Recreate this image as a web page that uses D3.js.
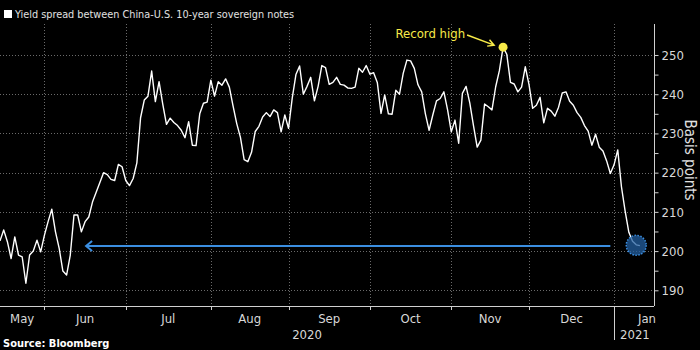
<!DOCTYPE html>
<html>
<head>
<meta charset="utf-8">
<script src="https://cdn.jsdelivr.net/npm/d3@7"></script>
<style>
  html, body { margin: 0; padding: 0; background: #000; }
  svg { display: block; }
  text { font-family: "DejaVu Sans Condensed", "DejaVu Sans", sans-serif; }
</style>
</head>
<body>
<script>
// daily China-U.S. 10-year yield spread (bp), trading days from 14 May 2020
const startDate = new Date(2020, 4, 14);
const spread = [
  202.6, 205.4, 202.4, 198.1, 203.6, 199, 198.5, 191.8, 199, 200,
  202.8, 199.8, 204, 207.5, 210.7, 204.9, 200.7, 194.9, 193.9, 199,
  209.2, 209.2, 204.9, 207.5, 208.7, 212.5, 215, 217.5, 220, 219.5,
  218.3, 218, 222.1, 221.5, 218, 216.7, 218.5, 222.5, 234, 238.5,
  239.5, 245.9, 238.1, 243.2, 237.5, 232.3, 233.9, 232.8, 232, 230.8,
  228.9, 233, 227, 226.9, 235, 237.7, 238, 243.6, 239.5, 243.2,
  242.3, 243.9, 241.8, 237, 232.5, 229, 223.3, 222.8, 225.2, 230.5,
  231.8, 234.2, 235.3, 234.3, 236, 235.3, 230.4, 234.7, 231.3, 239,
  245, 247.2, 240, 242, 244.3, 238.3, 242, 247.3, 246.8, 242.5,
  243, 244.3, 242.5, 242.3, 241.6, 241.5, 241.8, 246.6, 245.6, 247.3,
  245.1, 245.5, 243, 235.1, 239.8, 235, 234.9, 241, 240, 245.3,
  248.7, 248.5, 246.6, 242.4, 240.6, 235, 230.8, 234.7, 238.3, 238.9,
  240.6, 236, 230.4, 233.4, 227.5, 240.2, 242, 237.8, 232, 226.5,
  228.3, 237.5, 236.8, 236, 241.9, 246, 252, 250.2, 243, 242.6,
  240.6, 241.8, 247, 242.5, 236.4, 237.2, 239.2, 232.7, 236.4, 235.7,
  234.4, 236.7, 240.3, 240.6, 238.2, 237.2, 235.3, 234.1, 232, 230.6,
  227, 229.8, 226.5, 225.5, 223, 219.8, 222, 225.8, 216.4, 210.2,
  204.8, 202.5, 201.6, 201.4
];
const yTicks = [190, 195, 200, 205, 210, 215, 220, 225, 230, 235, 240, 245, 250, 255];
const monthNames = ['Jan', 'Feb', 'Mar', 'Apr', 'May', 'Jun', 'Jul', 'Aug', 'Sep', 'Oct', 'Nov', 'Dec'];
const arrowLevel = 201.3;     // level the blue arrow points back at
const arrowFrom = 165;        // trading-day index where the arrow starts
const arrowTo = 23;           // trading-day index of the arrow head

const titleText = 'Yield spread between China-U.S. 10-year sovereign notes';
const sourceText = 'Source: Bloomberg';
const unitText = 'Basis points';
const recordText = 'Record high';

const w = 700;
const h = 350;
const axisEnd = 176.8;

// trading days (weekdays) for each point, plus a few more to the axis end
const dates = [];
for (let d = new Date(startDate); dates.length <= Math.ceil(axisEnd); d = d3.timeDay.offset(d, 1)) {
  if (d.getDay() !== 0 && d.getDay() !== 6) dates.push(new Date(d));
}

const x = d3.scaleLinear().domain([0, axisEnd]).range([0, 654]);
const y = d3.scaleLinear().domain([186, 257.9]).range([306, 24]);

const svg = d3.select('body').append('svg')
  .attr('width', w)
  .attr('height', h)
  .style('background', '#000');

// month boundaries: first trading day of each month
const monthStarts = [];
dates.forEach((d, i) => {
  if (i > 0 && d.getMonth() !== dates[i - 1].getMonth()) monthStarts.push(i);
});

// gridlines
svg.append('g')
  .selectAll('line')
  .data(yTicks.filter(v => v % 10 === 0))
  .join('line')
    .attr('x1', 0)
    .attr('x2', x(axisEnd))
    .attr('y1', d => Math.round(y(d)) + 0.5)
    .attr('y2', d => Math.round(y(d)) + 0.5)
    .attr('stroke', '#6a6a6a')
    .attr('stroke-dasharray', '1,2');

svg.append('g')
  .selectAll('line')
  .data(monthStarts)
  .join('line')
    .attr('x1', d => Math.round(x(d)) + 0.5)
    .attr('x2', d => Math.round(x(d)) + 0.5)
    .attr('y1', y.range()[1])
    .attr('y2', y.range()[0])
    .attr('stroke', '#6a6a6a')
    .attr('stroke-dasharray', '1,2');

// y axis on the right
const yAxis = svg.append('g')
  .attr('transform', `translate(${Math.round(x(axisEnd)) + 0.5},0)`)
  .call(d3.axisRight(y)
    .tickValues(yTicks.filter(v => v <= 250))
    .tickSize(4)
    .tickPadding(3)
    .tickFormat(v => v % 10 === 0 ? v : ''));
yAxis.select('.domain')
  .attr('d', `M0,${y.range()[1]}V${y.range()[0]}`)
  .attr('stroke', '#d0d0d0');
yAxis.selectAll('.tick line').attr('stroke', '#d0d0d0');
yAxis.selectAll('.tick text')
  .attr('fill', '#d8d8d8')
  .style('font-size', '13px')
  .style('font-family', '"DejaVu Sans Condensed", sans-serif');

svg.append('text')
  .attr('transform', `translate(685,${(y.range()[0] + y.range()[1]) / 2 - 5}) rotate(90)`)
  .attr('text-anchor', 'middle')
  .attr('fill', '#e0e0e0')
  .style('font-size', '15px')
  .text(unitText);

// x axis
const xBase = y.range()[0];
svg.append('line')
  .attr('x1', 0)
  .attr('x2', x(axisEnd))
  .attr('y1', xBase + 0.5)
  .attr('y2', xBase + 0.5)
  .attr('stroke', '#d0d0d0');

svg.append('g')
  .selectAll('line')
  .data(monthStarts)
  .join('line')
    .attr('x1', d => Math.round(x(d)) + 0.5)
    .attr('x2', d => Math.round(x(d)) + 0.5)
    .attr('y1', xBase)
    .attr('y2', d => dates[d].getMonth() === 0 ? xBase + 34 : xBase + 4)
    .attr('stroke', '#d0d0d0');

const bounds = [0, ...monthStarts, axisEnd];
const monthLabels = bounds.slice(0, -1).map((b, i) => ({
  name: monthNames[dates[b].getMonth()],
  mid: (x(b) + x(bounds[i + 1])) / 2,
  last: i === bounds.length - 2
}));

svg.append('g')
  .selectAll('text')
  .data(monthLabels)
  .join('text')
    .attr('x', d => d.last ? x(axisEnd) + 2 : d.mid)
    .attr('y', xBase + 17)
    .attr('text-anchor', d => d.last ? 'end' : 'middle')
    .attr('fill', '#d8d8d8')
    .style('font-size', '13px')
    .text(d => d.name);

const yearStart = monthStarts.find(i => dates[i].getMonth() === 0);
svg.append('text')
  .attr('x', x(yearStart) / 2)
  .attr('y', xBase + 33)
  .attr('text-anchor', 'middle')
  .attr('fill', '#d8d8d8')
  .style('font-size', '13px')
  .text(dates[0].getFullYear());
svg.append('text')
  .attr('x', x(yearStart) + 6)
  .attr('y', xBase + 33)
  .attr('fill', '#d8d8d8')
  .style('font-size', '13px')
  .text(dates[yearStart].getFullYear());

// blue arrow back to the June level
const blue = '#3b8ee0';
svg.append('line')
  .attr('x1', x(arrowFrom))
  .attr('x2', x(arrowTo) + 1)
  .attr('y1', y(arrowLevel))
  .attr('y2', y(arrowLevel))
  .attr('stroke', blue)
  .attr('stroke-width', 2);
svg.append('path')
  .attr('d', `M${x(arrowTo) + 7},${y(arrowLevel) - 5}L${x(arrowTo) + 1},${y(arrowLevel)}L${x(arrowTo) + 7},${y(arrowLevel) + 5}`)
  .attr('fill', 'none')
  .attr('stroke', blue)
  .attr('stroke-width', 2);

// the series
svg.append('path')
  .datum(spread)
  .attr('d', d3.line().x((d, i) => x(i)).y(d => y(d)))
  .attr('fill', 'none')
  .attr('stroke', '#ffffff')
  .attr('stroke-width', 1.4)
  .attr('stroke-linejoin', 'round');

// latest value marker
const lastI = spread.length - 2;
svg.append('circle')
  .attr('cx', x(lastI))
  .attr('cy', y(spread[lastI]) + 0.5)
  .attr('r', 10)
  .attr('fill', 'rgba(35,95,160,0.75)')
  .attr('stroke', blue)
  .attr('stroke-width', 1.5)
  .attr('stroke-dasharray', '1.5,1.5');

// record high
const yellow = '#f7ea48';
const maxI = d3.maxIndex(spread);
svg.append('circle')
  .attr('cx', x(maxI))
  .attr('cy', y(spread[maxI]))
  .attr('r', 4.5)
  .attr('fill', yellow);
svg.append('text')
  .attr('x', x(maxI) - 38)
  .attr('y', 38)
  .attr('text-anchor', 'end')
  .attr('fill', yellow)
  .style('font-size', '13px')
  .text(recordText);
const ax1 = x(maxI) - 36, ay1 = 35, ax2 = x(maxI) - 9, ay2 = y(spread[maxI]) - 2;
const ang = Math.atan2(ay2 - ay1, ax2 - ax1);
svg.append('path')
  .attr('d', `M${ax1},${ay1}L${ax2},${ay2}` +
    `M${ax2 - 7 * Math.cos(ang - 0.5)},${ay2 - 7 * Math.sin(ang - 0.5)}L${ax2},${ay2}` +
    `L${ax2 - 7 * Math.cos(ang + 0.5)},${ay2 - 7 * Math.sin(ang + 0.5)}`)
  .attr('fill', 'none')
  .attr('stroke', yellow)
  .attr('stroke-width', 1.5);

// title and source
svg.append('rect')
  .attr('x', 4)
  .attr('y', 10)
  .attr('width', 8)
  .attr('height', 8)
  .attr('fill', '#ffffff');
svg.append('text')
  .attr('x', 15)
  .attr('y', 18)
  .attr('fill', '#e0e0e0')
  .style('font-size', '10.8px')
  .text(titleText);

svg.append('text')
  .attr('x', 3)
  .attr('y', 347)
  .attr('fill', '#ffffff')
  .style('font-size', '11px')
  .style('font-weight', 'bold')
  .text(sourceText);
</script>
</body>
</html>
